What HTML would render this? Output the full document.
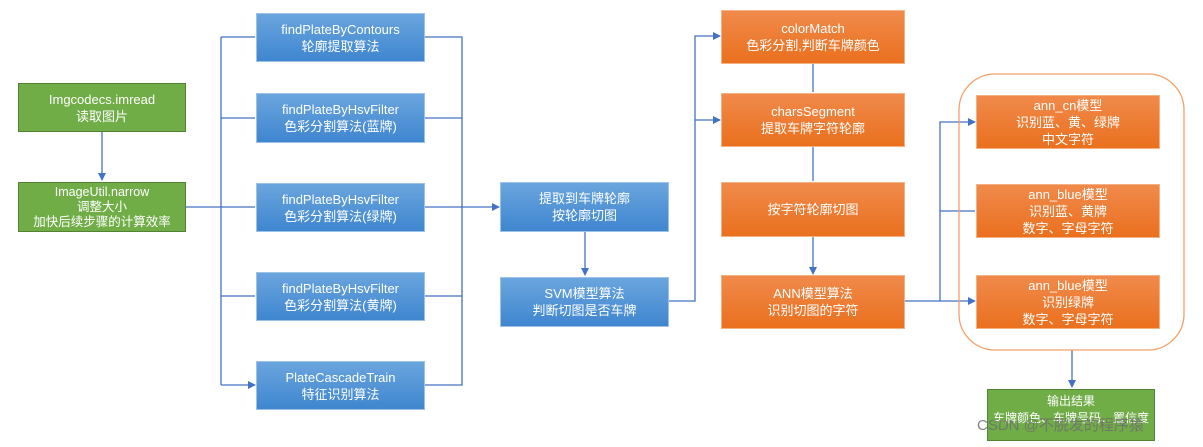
<!DOCTYPE html>
<html><head><meta charset="utf-8"><style>
body{margin:0;width:1203px;height:447px;background:#fff;overflow:hidden;position:relative;font-family:"Liberation Sans","Noto Sans CJK SC",sans-serif}
.b{position:absolute;box-sizing:border-box;color:#fff;display:flex;align-items:center;justify-content:center;text-align:center;font-size:13px;line-height:17px}
.g{background:#70ad47;border:1px solid #548235}
.u{background:linear-gradient(#6aa5de,#3f86cf);border:1px solid #9cc3e6}
.o{background:linear-gradient(#f08a4b,#ea701e);border:1px solid #f4b183}
svg{position:absolute;left:0;top:0}
</style></head><body>
<svg width="1203" height="447">
<defs><marker id="a" markerWidth="8" markerHeight="8" refX="7" refY="4" orient="auto" markerUnits="userSpaceOnUse"><path d="M0,0L8,4L0,8z" fill="#4472c4"/></marker></defs>
<g stroke="#4472c4" stroke-width="1.3" fill="none">
<path d="M102 132V180" marker-end="url(#a)"/>
<path d="M186 207H221"/>
<path d="M221 37V385"/>
<path d="M221 37H255M221 118H255M221 207H255M221 296H255M221 385H255" marker-end="url(#a)"/>
<path d="M425 37H462V385H425M425 118H462M425 296H462"/>
<path d="M425 207H499" marker-end="url(#a)"/>
<path d="M585 231V275" marker-end="url(#a)"/>
<path d="M669 301H695V36H720" marker-end="url(#a)"/>
<path d="M695 120H720" marker-end="url(#a)"/>
<path d="M813 63V92M813 147V181M813 236V274" marker-end="url(#a)"/>
<path d="M905 301H940V122H975" marker-end="url(#a)"/>
<path d="M940 211H975M940 301H975" marker-end="url(#a)"/>
<path d="M1072 350V387" marker-end="url(#a)"/>
</g>
<rect x="959" y="74" width="225" height="276" rx="36" fill="none" stroke="#f4a06a" stroke-width="1.3"/>
</svg>
<div class="b g" style="left:18px;top:83px;width:168px;height:49px">Imgcodecs.imread<br>读取图片</div>
<div class="b g" style="left:18px;top:182px;width:168px;height:50px;font-size:12.5px;line-height:15px">ImageUtil.narrow<br>调整大小<br>加快后续步骤的计算效率</div>
<div class="b u" style="left:256px;top:13px;width:169px;height:49px">findPlateByContours<br>轮廓提取算法</div>
<div class="b u" style="left:256px;top:93px;width:169px;height:50px">findPlateByHsvFilter<br>色彩分割算法(蓝牌)</div>
<div class="b u" style="left:256px;top:183px;width:169px;height:49px">findPlateByHsvFilter<br>色彩分割算法(绿牌)</div>
<div class="b u" style="left:256px;top:272px;width:169px;height:49px">findPlateByHsvFilter<br>色彩分割算法(黄牌)</div>
<div class="b u" style="left:256px;top:361px;width:169px;height:49px">PlateCascadeTrain<br>特征识别算法</div>
<div class="b u" style="left:500px;top:182px;width:169px;height:50px">提取到车牌轮廓<br>按轮廓切图</div>
<div class="b u" style="left:500px;top:277px;width:169px;height:50px">SVM模型算法<br>判断切图是否车牌</div>
<div class="b o" style="left:721px;top:10px;width:184px;height:54px">colorMatch<br>色彩分割,判断车牌颜色</div>
<div class="b o" style="left:721px;top:93px;width:184px;height:54px">charsSegment<br>提取车牌字符轮廓</div>
<div class="b o" style="left:721px;top:182px;width:184px;height:55px">按字符轮廓切图</div>
<div class="b o" style="left:721px;top:275px;width:184px;height:54px">ANN模型算法<br>识别切图的字符</div>
<div class="b o" style="left:976px;top:95px;width:184px;height:54px">ann_cn模型<br>识别蓝、黄、绿牌<br>中文字符</div>
<div class="b o" style="left:976px;top:184px;width:184px;height:54px">ann_blue模型<br>识别蓝、黄牌<br>数字、字母字符</div>
<div class="b o" style="left:976px;top:275px;width:184px;height:54px">ann_blue模型<br>识别绿牌<br>数字、字母字符</div>
<div class="b g" style="left:987px;top:389px;width:168px;height:52px;align-items:flex-start;padding-top:3px;font-size:12px;line-height:17px;overflow:hidden">输出结果<br>车牌颜色、车牌号码、置信度</div>
<div style="position:absolute;left:977px;top:414px;font-size:15px;color:rgba(110,110,110,.85)">CSDN @不脱发的程序猿</div>
</body></html>
